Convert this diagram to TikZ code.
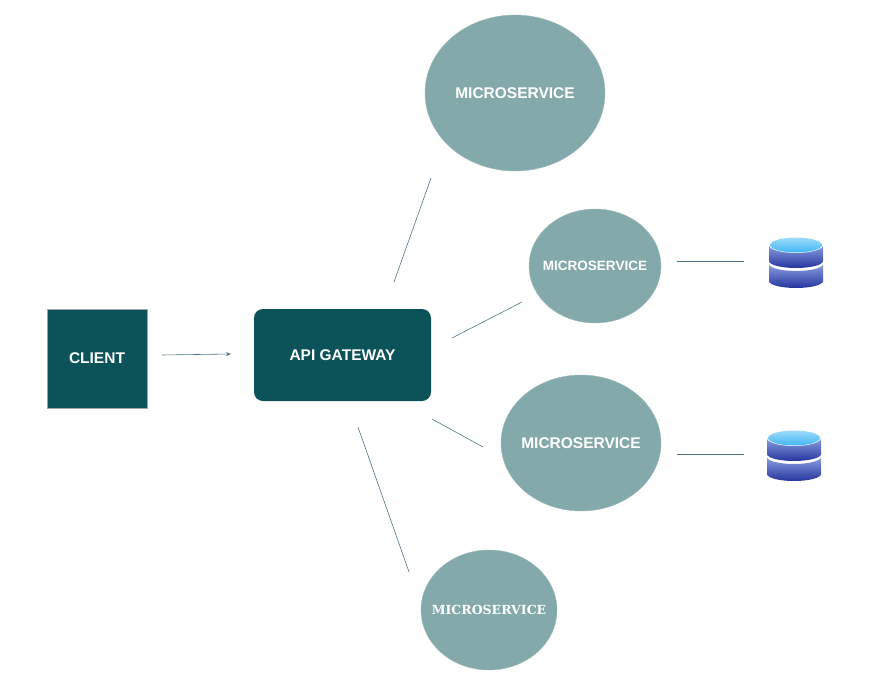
\documentclass[tikz,border=0pt]{standalone}
\usepackage{fontspec}
\setmainfont{Liberation Sans}
\newfontfamily\msserif{DejaVu Serif}
\definecolor{darkteal}{HTML}{0B5358}
\definecolor{msfill}{HTML}{84A9AB}
\definecolor{linkc}{HTML}{4F7385}
\definecolor{dbtop}{HTML}{3FB6F5}
\definecolor{dbdark}{HTML}{26359E}
\definecolor{dblight}{HTML}{8A9FE0}
\tikzset{
  ms/.style={ellipse, fill=msfill, draw=msfill!80!white, inner sep=0pt},
  mslabel/.style={text=white},
  link/.style={draw=linkc, line width=0.6pt},
}
\usetikzlibrary{shapes.geometric, arrows.meta}
\newcommand{\dbicon}[2]{%
  \begin{scope}[shift={(#1,#2)}]
    % lower disc
    \path[top color=dblight, bottom color=dbdark]
      (-27,2) -- (-27,19) arc[start angle=180, end angle=360, x radius=27pt, y radius=7pt] -- (27,2)
      arc[start angle=360, end angle=180, x radius=27pt, y radius=7pt] -- cycle;
    % upper disc
    \path[top color=dblight, bottom color=dbdark]
      (-27,-17) -- (-27,-1) arc[start angle=180, end angle=360, x radius=27pt, y radius=7pt] -- (27,-17) -- cycle;
    \fill[white] (0,-17) ellipse[x radius=27pt, y radius=8pt];
    \shade[top color=dbtop!50!white, bottom color=dbtop] (0,-17) ellipse[x radius=26pt, y radius=7.5pt];
  \end{scope}}
\begin{document}
\begin{tikzpicture}[x=1pt, y=-1pt]
  \useasboundingbox (0,0) rectangle (887,697);
  \node[draw=gray!70, fill=darkteal, text=white, font=\bfseries\fontsize{15.5}{17}\selectfont,
        minimum width=100pt, minimum height=99pt] (client) at (97,358.5) {CLIENT};
  \node[fill=darkteal, rounded corners=9pt, text=white, font=\bfseries\fontsize{15.5}{17}\selectfont,
        minimum width=177pt, minimum height=92pt] (api) at (342.5,355) {API GATEWAY};

  \node[ms, minimum width=180pt, minimum height=156pt,
        label={[mslabel, font=\bfseries\fontsize{15.5}{17}\selectfont]center:MICROSERVICE}] (ms1) at (515,93) {};
  \node[ms, minimum width=132pt, minimum height=114pt,
        label={[mslabel, font=\bfseries\fontsize{13.5}{15}\selectfont]center:MICROSERVICE}] (ms2) at (595,266) {};
  \node[ms, minimum width=160pt, minimum height=136pt,
        label={[mslabel, font=\bfseries\fontsize{15.5}{17}\selectfont]center:MICROSERVICE}] (ms3) at (581,443) {};
  \node[ms, minimum width=136pt, minimum height=120pt,
        label={[mslabel, font=\msserif\bfseries\fontsize{12.5}{14}\selectfont]center:MICROSERVICE}] (ms4) at (489,610) {};

  \coordinate (a1) at (162,355); \coordinate (a2) at (231,354);
  \draw[link, -{Stealth[length=5pt, width=4pt]}] (a1) -- (a2);

  \coordinate (g1) at (394,282); \coordinate (m1) at (431,178);
  \coordinate (g2) at (452,338); \coordinate (m2) at (522,302);
  \coordinate (g3) at (432,419); \coordinate (m3) at (483,447);
  \coordinate (g4) at (358,427); \coordinate (m4) at (409,572);
  \draw[link] (g1) -- (m1);
  \draw[link] (g2) -- (m2);
  \draw[link] (g3) -- (m3);
  \draw[link] (g4) -- (m4);

  \coordinate (d1a) at (677,261); \coordinate (d1b) at (744,261);
  \coordinate (d2a) at (677,454); \coordinate (d2b) at (744,454);
  \draw[link] (d1a) -- (d1b);
  \draw[link] (d2a) -- (d2b);

  \dbicon{796}{262}
  \dbicon{794}{455}
\end{tikzpicture}
\end{document}
